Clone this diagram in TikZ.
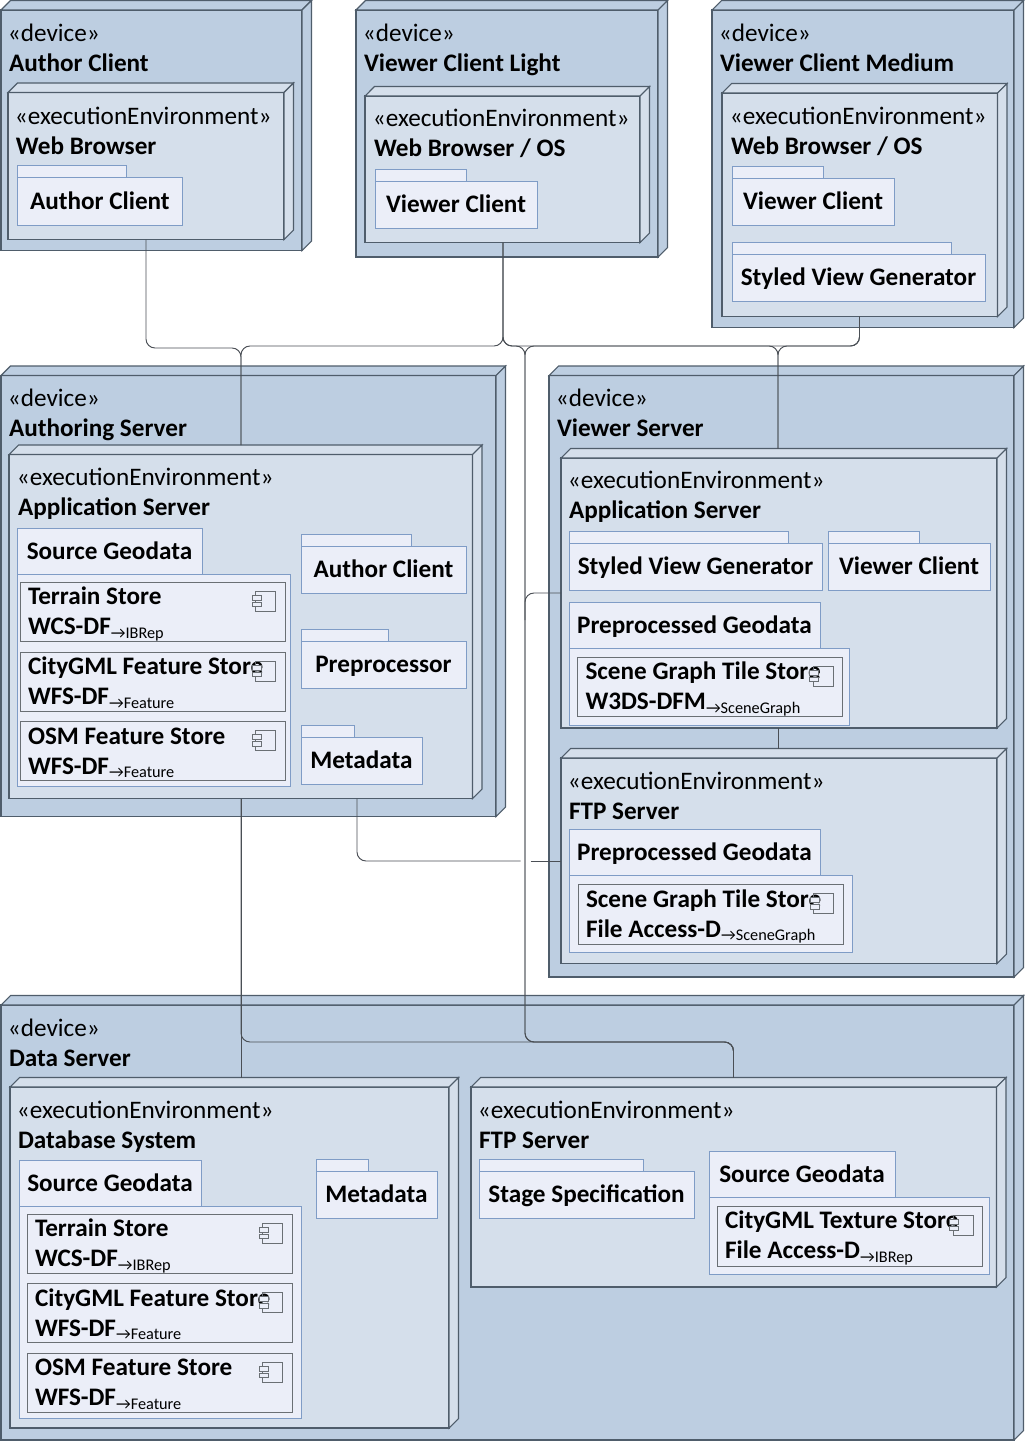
\documentclass[tikz,border=0pt]{standalone}
\usepackage{fontspec}
\setmainfont{Carlito}
\definecolor{devfill}{HTML}{BDCEE1}
\definecolor{envfill}{HTML}{D5DFEB}
\definecolor{artfill}{HTML}{EBEEF8}
\definecolor{edgedark}{HTML}{4F5D6B}
\definecolor{artedge}{HTML}{7F9CC6}
\definecolor{compedge}{HTML}{6A6F74}
\definecolor{wire}{HTML}{4A4F55}
\tikzset{
  devbox/.style={draw=edgedark,fill=devfill,line width=0.8pt},
  envbox/.style={draw=edgedark,fill=envfill,line width=0.8pt},
  artbox/.style={draw=artedge,fill=artfill,line width=0.7pt},
  artlab/.style={artbox,font=\fontsize{18.9}{22.5}\selectfont\bfseries,text height=15pt,text depth=2.4pt},
  compbox/.style={draw=compedge,fill=artfill,line width=0.65pt},
  lab/.style={font=\fontsize{18.9}{22.5}\selectfont,inner sep=0pt,outer sep=0pt,align=left,anchor=north west,text=black},
  conn/.style={draw=wire,line width=0.7pt,rounded corners=6.75pt},
  iconbody/.style={draw=compedge,line width=0.55pt},
  iconln/.style={draw=compedge,fill=artfill,line width=0.55pt}
}
% plain rectangle node from pixel corners
\newcommand{\pxbox}[7]{%
  \pgfmathsetmacro{\pxw}{(#4-(#2))*0.75}%
  \pgfmathsetmacro{\pxh}{(#5-(#3))*0.75}%
  \node[#6,inner sep=0pt,outer sep=0pt,minimum width=\pxw pt,minimum height=\pxh pt] (#1) at ({(#2+#4)/2},{(#3+#5)/2}) {#7};}
% 3D box: front face, top and side faces
\newcommand{\threed}[7]{%
  \pxbox{#1}{#2}{#3}{#4}{#5}{#6}{}%
  \draw[#6] (#1.north west) -- ++(#7,-#7) -- ([shift={(#7,-#7)}]#1.north east) -- (#1.north east) -- cycle;
  \draw[#6] (#1.north east) -- ++(#7,-#7) -- ([shift={(#7,-#7)}]#1.south east) -- (#1.south east) -- cycle;
  \coordinate (#1-t) at ([shift={(#7,-#7)}]#1.north east);}
% two-line caption: name, x, baseline of first line, stereotype, name
\newcommand{\capt}[5]{%
  \node[lab] (#1) at (#2,{#3+1.5-18.67}) {\rule{0pt}{14pt}\hspace*{-0.8pt}#4\\\textbf{#5}};}
% artifact with small tab: name x0 tabtop tabright bodytop x1 bottom text
\newcommand{\artifact}[8]{%
  \pxbox{#1-tab}{#2}{#3}{#4}{#5}{artbox}{}%
  \pxbox{#1}{#2}{#5}{#6}{#7}{artlab}{#8}}
% package: name x0 tabtop tabright tabbottom x1 bottom text
\newcommand{\package}[8]{%
  \pxbox{#1-body}{#2}{#5}{#6}{#7}{artbox}{}%
  \pxbox{#1}{#2}{#3}{#4}{#5}{artlab}{#8}}
\newcommand{\subt}[1]{\raisebox{-2.3pt}{\fontsize{12.2}{12.2}\selectfont\mdseries →#1}}
% component: name x0 y0 x1 y1 line1 line2
\newcommand{\comp}[7]{%
  \pxbox{#1}{#2}{#3}{#4}{#5}{compbox}{}%
  \node[lab,font=\fontsize{18.9}{22.5}\selectfont\bfseries] (#1-l) at ([shift={(8,4.3)}]#1.north west) {\rule{0pt}{14pt}#6\\#7};
  \begin{scope}[shift={([shift={(-32.7,9.2)}]#1.north east)}]
    \draw[iconbody] (3.4,0) rectangle (23.4,19.7);
    \draw[iconln] (0,4) rectangle (8.7,8.7);
    \draw[iconln] (0,10.8) rectangle (8.7,15.6);
  \end{scope}}
\begin{document}
\begin{tikzpicture}[x=0.75pt,y=-0.75pt]
\useasboundingbox (0,0) rectangle (1024,1441);
\fill[white] (0,0) rectangle (1024,1441);

% --- Author Client device
\threed{dA}{1}{10}{302}{250.5}{devbox}{9.5}
\capt{dAl}{9}{40}{«device»}{Author Client}
\threed{eA}{8}{92.5}{284}{239.5}{envbox}{9.5}
\capt{eAl}{16}{123.5}{«executionEnvironment»}{Web Browser}
\artifact{aA}{17}{165.7}{126.7}{177.7}{182.7}{225}{Author Client}

% --- Viewer Client Light device
\threed{dB}{356}{10}{658}{257}{devbox}{9.5}
\capt{dBl}{364}{40}{«device»}{Viewer Client Light}
\threed{eB}{365}{96}{640}{242.5}{envbox}{9.5}
\capt{eBl}{374}{125.5}{«executionEnvironment»}{Web Browser / OS}
\artifact{aB}{375}{169}{466}{181}{537}{228}{Viewer Client}

% --- Viewer Client Medium device
\threed{dC}{712}{10}{1014}{327.5}{devbox}{9.5}
\capt{dCl}{720}{40}{«device»}{Viewer Client Medium}
\threed{eC}{722}{93}{997.5}{316.5}{envbox}{9.5}
\capt{eCl}{731}{123.5}{«executionEnvironment»}{Web Browser / OS}
\artifact{aC}{732}{166}{823}{178}{894}{225}{Viewer Client}
\artifact{aC2}{732}{242}{951}{254}{985}{301}{Styled View Generator}

% --- Authoring Server device
\threed{dD}{1}{375.5}{496}{816.5}{devbox}{9.5}
\capt{dDl}{9}{405}{«device»}{Authoring Server}
\threed{eD}{9}{454.5}{472.5}{798.5}{envbox}{9.5}
\capt{eDl}{18}{484}{«executionEnvironment»}{Application Server}
\package{pD}{17}{528.5}{202}{574.5}{290}{786}{Source Geodata}
\comp{cD1}{20}{582}{285}{641}{Terrain Store}{WCS-DF\subt{IBRep}}
\comp{cD2}{20}{652}{285}{711}{CityGML Feature Store}{WFS-DF\subt{Feature}}
\comp{cD3}{20}{721.5}{285}{780.5}{OSM Feature Store}{WFS-DF\subt{Feature}}
\artifact{aD1}{301}{534}{411}{546}{466}{593}{Author Client}
\artifact{aD2}{301}{629}{388}{641}{466}{688}{Preprocessor}
\artifact{aD3}{301}{725}{354}{737}{422}{784}{Metadata}

% --- Viewer Server device
\threed{dE}{549}{375.5}{1014}{977}{devbox}{9.5}
\capt{dEl}{557}{405}{«device»}{Viewer Server}
\threed{eE1}{561}{458}{997}{728}{envbox}{9.5}
\capt{eE1l}{569}{487}{«executionEnvironment»}{Application Server}
\artifact{aE1}{569}{531}{788}{543}{822}{590}{Styled View Generator}
\artifact{aE2}{828}{531}{919}{543}{990}{590}{Viewer Client}
\package{pE1}{569}{602}{820}{648.5}{849}{725}{Preprocessed Geodata}
\comp{cE1}{577.5}{657}{842.5}{716.5}{Scene Graph Tile Store}{W3DS-DFM\subt{SceneGraph}}
\threed{eE2}{561}{758}{997}{963.5}{envbox}{9.5}
\capt{eE2l}{569}{787.5}{«executionEnvironment»}{FTP Server}
\package{pE2}{569}{829.5}{820}{875.5}{852}{952.5}{Preprocessed Geodata}
\comp{cE2}{578}{884.5}{843}{944}{Scene Graph Tile Store}{File Access-D\subt{SceneGraph}}

% --- Data Server device
\threed{dF}{1}{1005}{1014}{1440}{devbox}{9.5}
\capt{dFl}{9}{1035}{«device»}{Data Server}
\threed{eF1}{10}{1087}{449}{1428}{envbox}{9.5}
\capt{eF1l}{18}{1117}{«executionEnvironment»}{Database System}
\package{pF1}{19}{1160}{201}{1206.5}{301}{1418}{Source Geodata}
\comp{cF1}{27}{1214}{292}{1273}{Terrain Store}{WCS-DF\subt{IBRep}}
\comp{cF2}{27}{1283.5}{292}{1342.5}{CityGML Feature Store}{WFS-DF\subt{Feature}}
\comp{cF3}{27}{1353}{292}{1412}{OSM Feature Store}{WFS-DF\subt{Feature}}
\artifact{aF1}{316}{1159}{368}{1171}{437}{1218}{Metadata}
\threed{eF2}{471}{1087}{996.5}{1287}{envbox}{9.5}
\capt{eF2l}{479}{1117}{«executionEnvironment»}{FTP Server}
\artifact{aF2}{479}{1159}{643}{1171}{694}{1218}{Stage Specification}
\package{pF2}{709}{1151}{895}{1197.5}{989.5}{1274.5}{Source Geodata}
\comp{cF4}{717}{1206}{982.5}{1266}{CityGML Texture Store}{File Access-D\subt{IBRep}}

% --- connectors
\draw[conn] (146,0 |- eA.south) -- (146,348) -- (241,348) -- (241,0 |- eD-t);
\draw[conn] (503,0 |- eB.south) -- (503,346) -- (241,346) -- (241,0 |- eD-t);
\draw[conn] (503,0 |- eB.south) -- (503,346) -- (778,346) -- (778,0 |- eE1-t);
\draw[conn] (859.5,0 |- eC.south) -- (859.5,346) -- (778,346) -- (778,0 |- eE1-t);
\draw[conn] (503,0 |- eB.south) -- (503,346) -- (525,346) -- (525,1042) -- (733.5,1042) -- (733.5,0 |- eF2-t);
\draw[conn] (859.5,0 |- eC.south) -- (859.5,346) -- (525,346) -- (525,1042) -- (733.5,1042) -- (733.5,0 |- eF2-t);
\coordinate (branchE) at (525,620);
\draw[conn] (branchE) -- (525,593) -- (eE1.west |- 0,593);
\draw[conn] (241,0 |- eD.south) -- (241,0 |- eF1-t);
\draw[conn] (241,0 |- eD.south) -- (241,1042) -- (733.5,1042) -- (733.5,0 |- eF2-t);
\coordinate (gapL) at (520.5,861);
\coordinate (gapR) at (530.5,861);
\draw[conn] (357,0 |- eD.south) -- (357,861) -- (gapL);
\draw[conn] (gapR) -- (eE2.west |- gapR);
\draw[conn] (778,0 |- eE1.south) -- (778,0 |- eE2-t);
\end{tikzpicture}
\end{document}
